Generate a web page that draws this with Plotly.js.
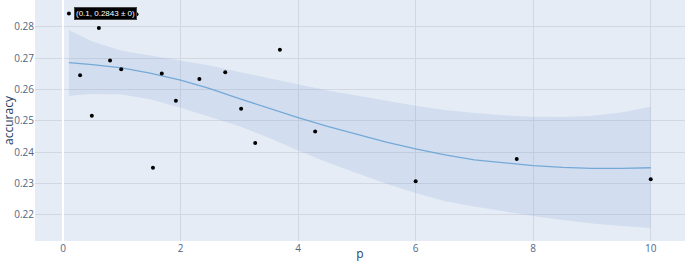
<!DOCTYPE html>
<html>
<head>
<meta charset="utf-8">
<script src="https://cdn.plot.ly/plotly-3.0.1.min.js"></script>
<style>html,body{margin:0;padding:0;background:#fff;}</style>
</head>
<body>
<div id="chart" style="width:685px;height:262px;"></div>
<script>
// observed points
const pValues = [0.1, 0.29, 0.49, 0.61, 0.80, 0.99, 1.25, 1.53, 1.68, 1.92, 2.32, 2.76, 3.03, 3.27, 3.69, 4.29, 6.0, 7.72, 10.0];
const accuracy = [0.2843, 0.2646, 0.2516, 0.2797, 0.2693, 0.2665, 0.2841, 0.2350, 0.2651, 0.2564, 0.2634, 0.2655, 0.2539, 0.2429, 0.2727, 0.2466, 0.2307, 0.2378, 0.2313];

// fitted trend and confidence band
const fitX = [0.1, 0.5, 1, 1.5, 2, 2.5, 3, 3.5, 4, 4.5, 5, 5.5, 6, 6.5, 7, 7.5, 8, 8.5, 9, 9.5, 10];
const fitMean = [0.2686, 0.2680, 0.2669, 0.2652, 0.2630, 0.2603, 0.2571, 0.2540, 0.2510, 0.2482, 0.2457, 0.2432, 0.2410, 0.2391, 0.2375, 0.2365, 0.2357, 0.2351, 0.2348, 0.2348, 0.2350];
const fitUpper = [0.2790, 0.2754, 0.2724, 0.2709, 0.2694, 0.2677, 0.2656, 0.2636, 0.2615, 0.2597, 0.2581, 0.2565, 0.2548, 0.2535, 0.2525, 0.2518, 0.2513, 0.2512, 0.2516, 0.2527, 0.2545];
const fitLower = [0.2580, 0.2586, 0.2584, 0.2568, 0.2542, 0.2512, 0.2483, 0.2446, 0.2405, 0.2367, 0.2332, 0.2299, 0.2269, 0.2243, 0.2226, 0.2210, 0.2196, 0.2183, 0.2172, 0.2164, 0.2157];

const hoverText = '(0.1, 0.2843 ± 0)';

const traces = [
  {x: fitX, y: fitLower, mode: 'lines', line: {width: 0}, hoverinfo: 'skip', showlegend: false},
  {x: fitX, y: fitUpper, mode: 'lines', line: {width: 0}, fill: 'tonexty', fillcolor: 'rgba(100,150,200,0.15)', hoverinfo: 'skip', showlegend: false},
  {x: fitX, y: fitMean, mode: 'lines', line: {color: 'rgba(100,160,210,0.85)', width: 1.3}, showlegend: false},
  {x: pValues, y: accuracy, mode: 'markers', marker: {color: 'black', size: 4}, showlegend: false}
];

const layout = {
  width: 685, height: 262,
  margin: {l: 35, r: 0, t: 0, b: 21},
  paper_bgcolor: '#fff',
  plot_bgcolor: '#E5ECF6',
  font: {family: '"Open Sans", Verdana, sans-serif', size: 10, color: '#506784'},
  xaxis: {
    range: [-0.477, 10.583],
    tickvals: [0, 2, 4, 6, 8, 10],
    gridcolor: '#d2d8e2', zeroline: true, zerolinecolor: '#fff', zerolinewidth: 2,
    ticks: '', showline: false,
    title: {text: 'p', font: {size: 12, color: '#2a3f5f'}, standoff: 2},
    automargin: false
  },
  yaxis: {
    range: [0.21158, 0.28863],
    tickvals: [0.22, 0.23, 0.24, 0.25, 0.26, 0.27, 0.28],
    gridcolor: '#d2d8e2', zeroline: false,
    ticks: '', showline: false,
    title: {text: 'accuracy', font: {size: 12, color: '#2a3f5f'}, standoff: 0},
    automargin: false
  },
  annotations: [{
    x: 0.1, y: 0.2843, xref: 'x', yref: 'y',
    text: hoverText, showarrow: false,
    xanchor: 'left', yanchor: 'middle', xshift: 5,
    bgcolor: 'black', bordercolor: '#444', borderwidth: 1, borderpad: 1,
    font: {size: 8, color: 'white', family: 'Arial, sans-serif'}
  }]
};

Plotly.newPlot('chart', traces, layout, {displayModeBar: false});
</script>
</body>
</html>
